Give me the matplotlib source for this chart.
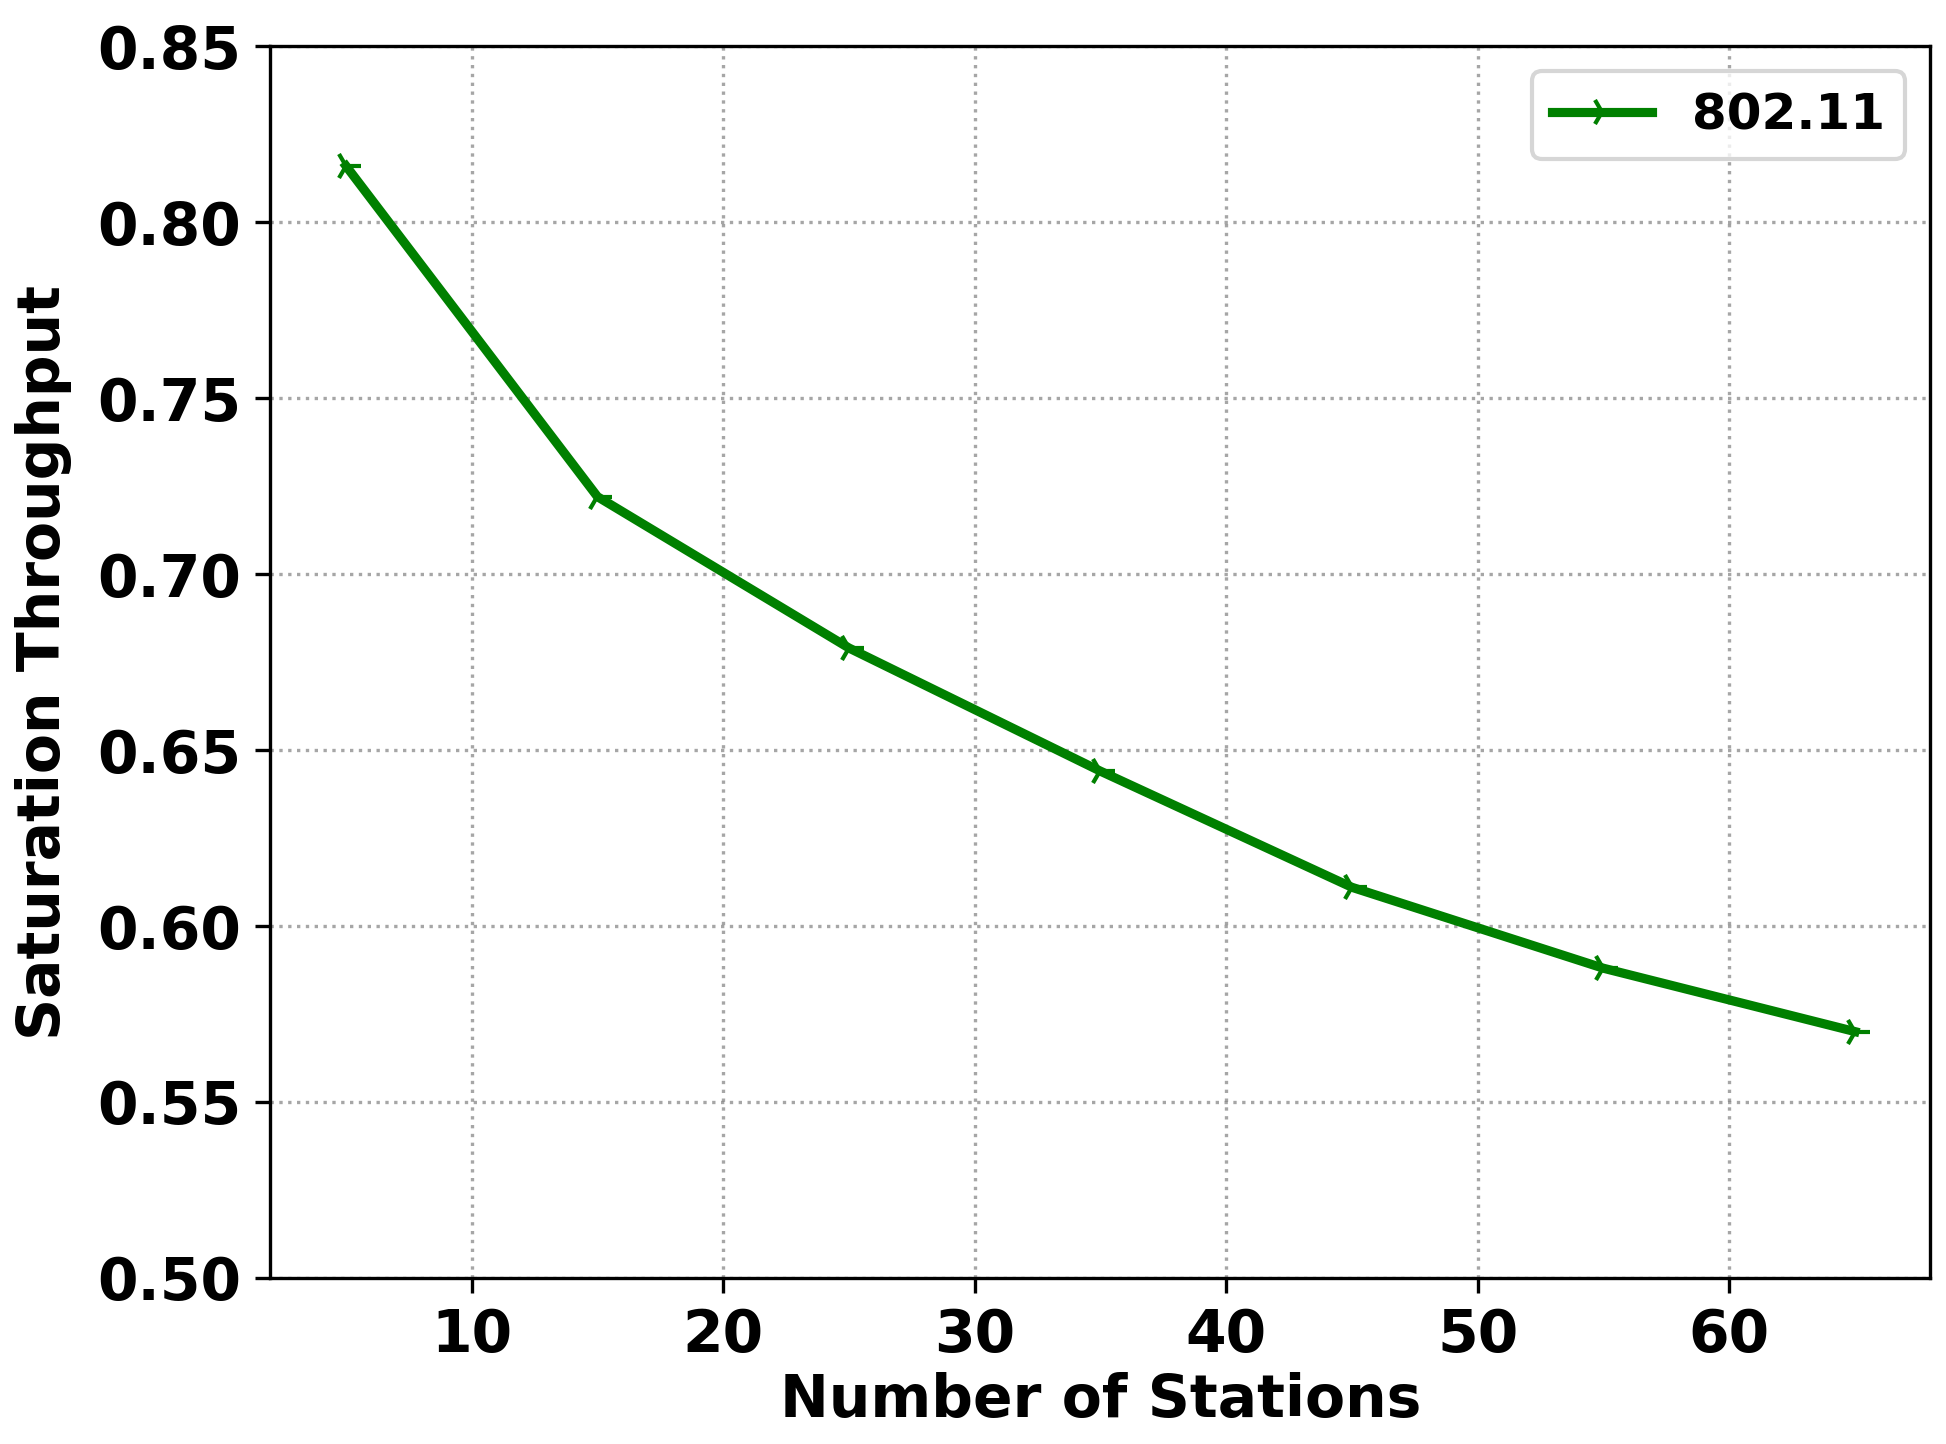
import matplotlib
matplotlib.use("Agg")
import matplotlib.pyplot as plt

stations = [5, 15, 25, 35, 45, 55, 65]
throughput = [0.816, 0.722, 0.679, 0.644, 0.611, 0.588, 0.570]
series_label = "802.11"

plt.rcParams['font.weight'] = 'bold'
fig = plt.figure(figsize=(1946/300, 1444/300), dpi=300)
ax = fig.add_axes([0.139, 0.115, 0.853, 0.853])
ax.plot(stations, throughput, color='green', marker='4', markersize=7, linewidth=2.2, label=series_label)
ax.set_ylim(0.50, 0.85)
ax.set_xlim(2, 68)
ax.set_xticks([10, 20, 30, 40, 50, 60])
ax.set_yticks([0.50, 0.55, 0.60, 0.65, 0.70, 0.75, 0.80, 0.85])
ax.grid(True, linestyle=':', color='gray', alpha=0.7)
ax.tick_params(labelsize=14)
for t in ax.get_xticklabels() + ax.get_yticklabels():
    t.set_fontweight('bold')
ax.set_xlabel("Number of Stations", fontsize=14, fontweight='bold', labelpad=2)
ax.set_ylabel("Saturation Throughput", fontsize=14, fontweight='bold', labelpad=6)
ax.legend(loc='upper right', prop={'size': 12, 'weight': 'bold'})
fig.savefig("out.png", dpi=300)
